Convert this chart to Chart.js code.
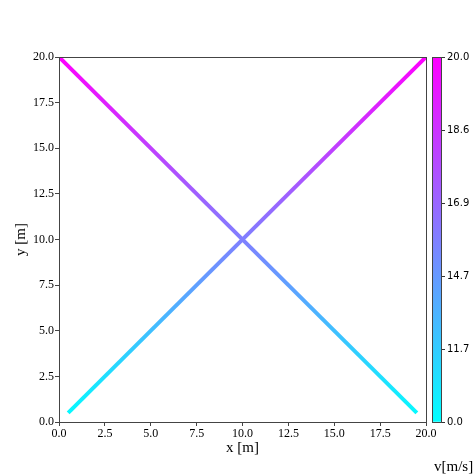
<!DOCTYPE html>
<html><head><meta charset="utf-8">
<script src="https://cdn.jsdelivr.net/npm/chart.js@4"></script>
<style>
html,body{margin:0;padding:0;background:#fff;}
#wrap{position:relative;width:474px;height:474px;}
#main{position:absolute;left:0;top:0;}
#cb{position:absolute;left:426px;top:0;}
</style></head>
<body>
<div id="wrap">
<canvas id="main" width="474" height="474"></canvas>
<canvas id="cb" width="48" height="474"></canvas>
</div>
<script>
// Data
const line1X = [0.5, 20.0];
const line1Y = [0.5, 20.0];
const line2X = [0.0, 19.5];
const line2Y = [20.0, 0.5];
const xMin = 0, xMax = 20, yMin = 0, yMax = 20, tickStep = 2.5;
const cbTickPos = [0, 0.2, 0.4, 0.6, 0.8, 1.0];
const cbTickLabels = ["0.0", "11.7", "14.7", "16.9", "18.6", "20.0"];
const xTitle = "x [m]";
const yTitle = "y [m]";
const cbTitle = "v[m/s]";

const SERIF = "'Liberation Serif','DejaVu Serif',serif";
const CYAN = "rgb(0,255,255)", MAGENTA = "rgb(255,0,255)";

function toPts(xs, ys){ return xs.map((x,i)=>({x:x, y:ys[i]})); }

function lineGradient(ctx){
  const chart = ctx.chart;
  if(!chart.chartArea) return MAGENTA;
  const ys = chart.scales.y;
  const g = chart.ctx.createLinearGradient(0, ys.getPixelForValue(yMin), 0, ys.getPixelForValue(yMax));
  g.addColorStop(0, CYAN);
  g.addColorStop(1, MAGENTA);
  return g;
}

const frame = {
  id:'frame',
  afterDatasetsDraw(chart){
    const a = chart.chartArea, c = chart.ctx;
    c.save(); c.strokeStyle = '#444'; c.lineWidth = 1;
    c.strokeRect(Math.round(a.left)+0.5, Math.round(a.top)+0.5, Math.round(a.right-a.left), Math.round(a.bottom-a.top));
    c.restore();
  }
};

new Chart(document.getElementById('main'), {
  type:'scatter',
  data:{datasets:[
    {data:toPts(line1X,line1Y), showLine:true, borderColor:lineGradient, borderWidth:4, pointRadius:0, borderCapStyle:'butt'},
    {data:toPts(line2X,line2Y), showLine:true, borderColor:lineGradient, borderWidth:4, pointRadius:0, borderCapStyle:'butt'}
  ]},
  options:{
    responsive:false, animation:false, devicePixelRatio:1,
    layout:{padding:{left:0, top:57, right:48, bottom:0}},
    plugins:{legend:{display:false}, tooltip:{enabled:false}},
    scales:{
      x:{type:'linear', min:xMin, max:xMax,
         ticks:{stepSize:tickStep, callback:v=>v.toFixed(1), color:'#000', font:{family:SERIF,size:12}, padding:1, maxRotation:0},
         grid:{display:true, drawOnChartArea:false, drawTicks:true, tickLength:4, color:'#444'},
         border:{display:true, color:'#444'},
         title:{display:true, text:xTitle, color:'#000', font:{family:SERIF,size:15}, padding:{top:0,bottom:17}},
         afterFit(s){ s.height = 52; }},
      y:{type:'linear', min:yMin, max:yMax,
         ticks:{stepSize:tickStep, callback:v=>v.toFixed(1), color:'#000', font:{family:SERIF,size:12}, padding:1},
         grid:{display:true, drawOnChartArea:false, drawTicks:true, tickLength:4, color:'#444'},
         border:{display:true, color:'#444'},
         title:{display:true, text:yTitle, color:'#000', font:{family:SERIF,size:15}, padding:{top:12,bottom:0}},
         afterFit(s){ s.width = 59; }}
    }
  },
  plugins:[frame]
});

function barGradient(ctx){
  const chart = ctx.chart;
  if(!chart.chartArea) return MAGENTA;
  const ys = chart.scales.y;
  const g = chart.ctx.createLinearGradient(0, ys.getPixelForValue(0), 0, ys.getPixelForValue(1));
  g.addColorStop(0, CYAN);
  g.addColorStop(1, MAGENTA);
  return g;
}

const cbLabel = {
  id:'cbLabel',
  afterDraw(chart){
    const c = chart.ctx;
    c.save(); c.fillStyle = '#000'; c.font = '15px ' + SERIF;
    c.textAlign = 'left'; c.textBaseline = 'middle';
    c.fillText(cbTitle, 8, 467);
    c.restore();
  }
};

new Chart(document.getElementById('cb'), {
  type:'bar',
  data:{labels:['v'], datasets:[{data:[[0,1]], backgroundColor:barGradient, borderWidth:0, barPercentage:1, categoryPercentage:1}]},
  options:{
    responsive:false, animation:false, devicePixelRatio:1,
    layout:{padding:{left:6, top:57, right:0, bottom:52}},
    plugins:{legend:{display:false}, tooltip:{enabled:false}},
    scales:{
      x:{display:false},
      y:{position:'right', min:0, max:1,
         afterBuildTicks(s){ s.ticks = cbTickPos.map(v=>({value:v})); },
         ticks:{callback:(v,i)=>cbTickLabels[i], color:'#000', font:{family:"'DejaVu Sans',sans-serif", size:10}, padding:2},
         grid:{display:true, drawOnChartArea:false, drawTicks:true, tickLength:4, color:'#333'},
         border:{display:true, color:'#333'},
         afterFit(s){ s.width = 33; }}
    }
  },
  plugins:[frame, cbLabel]
});
</script>
</body></html>
